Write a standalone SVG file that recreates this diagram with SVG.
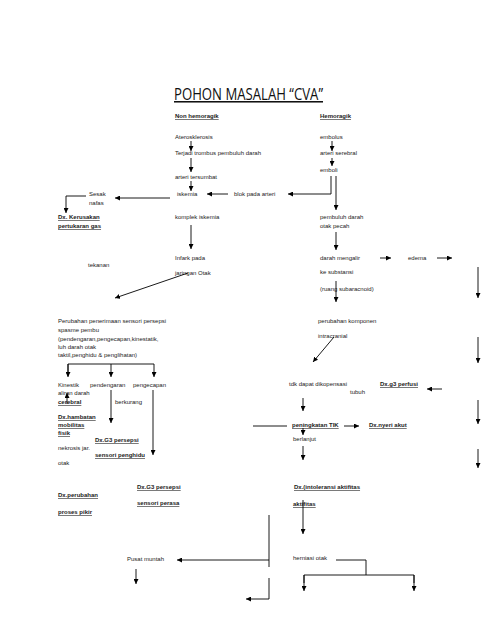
<svg xmlns="http://www.w3.org/2000/svg" width="495" height="640" viewBox="0 0 495 640">
<defs>
<marker id="ah" viewBox="0 0 10 10" refX="10" refY="5" markerWidth="5" markerHeight="5" markerUnits="userSpaceOnUse" orient="auto">
<path d="M0,0 L10,5 L0,10 z" fill="#000"/>
</marker>
</defs>
<style>
text{font-family:"Liberation Sans","Open Sans",sans-serif;font-size:6px;fill:#222}
.b{font-weight:bold;text-decoration:underline}
.t{font-family:"Open Sans","Liberation Sans",sans-serif;font-size:15.5px;text-decoration:underline;fill:#111}
.c line,.c polyline{stroke:#000;stroke-width:0.9;fill:none}
.c .a{marker-end:url(#ah)}
</style>
<rect width="495" height="640" fill="#fff"/>
<g id="title"><text class="t" x="174" y="100" textLength="149" lengthAdjust="spacingAndGlyphs">POHON MASALAH “CVA”</text></g>
<g id="n-nonhem"><text class="b" x="175" y="118">Non hemoragik</text></g>
<g id="n-hem"><text class="b" x="320" y="118">Hemoragik</text></g>
<g id="n-ater"><text x="175" y="139">Aterosklerosis</text></g>
<g id="n-trombus"><text x="175" y="155">Terjadi trombus pembuluh darah</text></g>
<g id="n-tersumbat"><text x="175" y="179">arteri tersumbat</text></g>
<g id="n-iskemia"><text x="177" y="196">iskemia</text></g>
<g id="n-blok"><text x="234" y="196">blok pada arteri</text></g>
<g id="n-embolus"><text x="320" y="139">embolus</text></g>
<g id="n-serebral"><text x="320" y="155">arteri serebral</text></g>
<g id="n-emboli"><text x="320" y="172">emboli</text></g>
<g id="n-sesak"><text x="89" y="196">Sesak</text><text x="89" y="205">nafas</text></g>
<g id="n-dxkerusakan"><text class="b" x="58" y="219">Dx. Kerusakan</text><text class="b" x="58" y="228">pertukaran gas</text></g>
<g id="n-komplek"><text x="175" y="219">komplek iskemia</text></g>
<g id="n-pecah"><text x="320" y="219">pembuluh darah</text><text x="320" y="228">otak pecah</text></g>
<g id="n-infark"><text x="175" y="260">Infark pada</text><text x="175" y="275">jaringan Otak</text></g>
<g id="n-tekanan"><text x="88" y="267">tekanan</text></g>
<g id="n-mengalir"><text x="320" y="260">darah mengalir</text></g>
<g id="n-edema"><text x="408" y="260">edema</text></g>
<g id="n-substansi"><text x="320" y="274">ke substansi</text><text x="320" y="291">(ruang subaracnoid)</text></g>
<g id="n-perubahan"><text x="58" y="323">Perubahan penerimaan sensori persepsi</text><text x="58" y="332">spasme pembu</text><text x="58" y="341">(pendengaran,pengecapan,kinestatik,</text><text x="58" y="349">luh darah otak</text><text x="58" y="357">taktil,penghidu &amp; penglihatan)</text></g>
<g id="n-komponen"><text x="318" y="323">perubahan komponen</text><text x="318" y="338">intracranial</text></g>
<g id="n-kinestik"><text x="58" y="387">Kinestik</text></g>
<g id="n-pendengaran"><text x="90" y="387">pendengaran</text></g>
<g id="n-pengecapan"><text x="133" y="387">pengecapan</text></g>
<g id="n-aliran"><text x="58" y="395">aliran darah</text><text class="b" x="58" y="404">cerebral</text></g>
<g id="n-berkurang"><text x="115" y="404">berkurang</text></g>
<g id="n-hambatan"><text class="b" x="58" y="419">Dx.hambatan</text><text class="b" x="58" y="427">mobilitas</text><text class="b" x="58" y="435">fisik</text></g>
<g id="n-g3penghidu"><text class="b" x="95" y="442">Dx.G3 persepsi</text><text class="b" x="95" y="457">sensori penghidu</text></g>
<g id="n-nekrosis"><text x="58" y="450">nekrosis jar.</text><text x="58" y="465">otak</text></g>
<g id="n-g3perasa"><text class="b" x="137" y="489">Dx.G3 persepsi</text><text class="b" x="137" y="505">sensori perasa</text></g>
<g id="n-prosespikir"><text class="b" x="58" y="497">Dx.perubahan</text><text class="b" x="58" y="514">proses pikir</text></g>
<g id="n-tdk"><text x="289" y="386">tdk dapat dikopensasi</text><text x="350" y="394">tubuh</text></g>
<g id="n-perfusi"><text class="b" x="380" y="386">Dx.g3 perfusi</text></g>
<g id="n-tik"><text class="b" x="292" y="427">peningkatan TIK</text></g>
<g id="n-nyeri"><text class="b" x="369" y="427">Dx.nyeri akut</text></g>
<g id="n-berlanjut"><text x="293" y="441">berlanjut</text></g>
<g id="n-intoleransi"><text class="b" x="294" y="489">Dx.(intoleransi aktifitas</text><text class="b" x="293" y="506">aktifitas</text></g>
<g id="n-herniasi"><text x="293" y="560">herniasi otak</text></g>
<g id="n-muntah"><text x="127" y="561">Pusat muntah</text></g>
<g id="connectors" class="c">
<line class="a" x1="191" y1="141" x2="191" y2="151"/>
<line class="a" x1="191" y1="158" x2="191" y2="172"/>
<line class="a" x1="191" y1="181" x2="191" y2="191"/>
<line class="a" x1="228" y1="194" x2="207" y2="194"/>
<line class="a" x1="332" y1="141" x2="332" y2="151"/>
<line class="a" x1="332" y1="158" x2="332" y2="166"/>
<polyline class="a" points="331,176 331,194 288,194"/>
<line class="a" x1="336" y1="176" x2="336" y2="210"/>
<line class="a" x1="170" y1="198" x2="115" y2="198"/>
<polyline class="a" points="86,196 66,196 66,213"/>
<line class="a" x1="191" y1="225" x2="191" y2="249"/>
<line class="a" x1="336" y1="232" x2="336" y2="250"/>
<line class="a" x1="380" y1="258" x2="391" y2="258"/>
<line class="a" x1="437" y1="258" x2="452" y2="258"/>
<line class="a" x1="478" y1="267" x2="478" y2="298"/>
<line class="a" x1="336" y1="281" x2="336" y2="302"/>
<line class="a" x1="188" y1="273" x2="115" y2="298"/>
<line class="a" x1="334" y1="337" x2="313" y2="362"/>
<line class="a" x1="478" y1="337" x2="478" y2="363"/>
<polyline points="68,376 68,364 154,364"/>
<line class="a" x1="68" y1="364" x2="68" y2="377"/>
<line class="a" x1="111" y1="364" x2="111" y2="377"/>
<line class="a" x1="154" y1="364" x2="154" y2="377"/>
<line class="a" x1="67" y1="404" x2="67" y2="393"/>
<line class="a" x1="111" y1="390" x2="111" y2="423"/>
<line class="a" x1="153" y1="390" x2="153" y2="455"/>
<line class="a" x1="442" y1="389" x2="427" y2="389"/>
<line class="a" x1="478" y1="400" x2="478" y2="424"/>
<line class="a" x1="303" y1="398" x2="303" y2="411"/>
<line x1="253" y1="426" x2="287" y2="426"/>
<line class="a" x1="344" y1="426" x2="359" y2="426"/>
<line class="a" x1="303" y1="428" x2="303" y2="435"/>
<line class="a" x1="303" y1="446" x2="303" y2="460"/>
<line class="a" x1="478" y1="449" x2="478" y2="468"/>
<line class="a" x1="303" y1="500" x2="303" y2="534"/>
<polyline points="336,560 366,560 366,575"/>
<polyline points="304,583 304,575 414,575 414,583"/>
<line class="a" x1="304" y1="575" x2="304" y2="591"/>
<line class="a" x1="414" y1="575" x2="414" y2="591"/>
<line x1="269" y1="515" x2="269" y2="567"/>
<line class="a" x1="269" y1="560" x2="177" y2="560"/>
<polyline class="a" points="269,578 269,599 246,599"/>
<line class="a" x1="136" y1="569" x2="136" y2="584"/>
</g>
</svg>
